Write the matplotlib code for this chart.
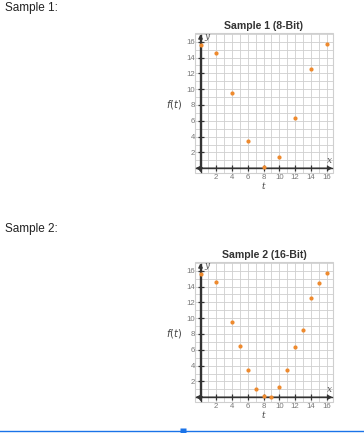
import matplotlib
matplotlib.use("Agg")
import matplotlib.pyplot as plt
from matplotlib.lines import Line2D

plt.rcParams['font.family'] = ['Liberation Sans', 'DejaVu Sans']

# sample 1 (8-bit): samples every 2 units of t
t1 = [0, 2, 4, 6, 8, 10, 12, 14, 16]
f1 = [15.6, 14.6, 9.5, 3.4, 0.2, 1.4, 6.4, 12.5, 15.7]

# sample 2 (16-bit): samples every unit of t
t2 = [0, 2, 4, 5, 6, 7, 8, 9, 10, 11, 12, 13, 14, 15, 16]
f2 = [15.6, 14.6, 9.5, 6.5, 3.4, 1.1, 0.2, 0.05, 1.3, 3.4, 6.4, 8.5, 12.5, 14.5, 15.7]

tick_vals = [2, 4, 6, 8, 10, 12, 14, 16]

W, H = 364, 433
fig = plt.figure(figsize=(W / 100, H / 100), dpi=100)


def make_panel(left, top, title, t, f):
    # pixel box -> figure fraction
    w, h = 138, 140
    ax = fig.add_axes([left / W, 1 - (top + h) / H, w / W, h / H])
    ax.set_xlim(-0.7, 16.8)
    ax.set_ylim(-0.6, 17.1)

    ax.set_xticks(range(0, 17), minor=True)
    ax.set_yticks(range(0, 18), minor=True)
    ax.grid(which='both', color='#cfcfcf', lw=0.6)
    ax.set_axisbelow(True)

    for s in ['top', 'right']:
        ax.spines[s].set_visible(False)
    ax.patch.set_edgecolor('#cfcfcf')
    ax.patch.set_linewidth(0.8)
    ax.spines['left'].set_position(('data', 0))
    ax.spines['bottom'].set_position(('data', 0))
    ax.spines['left'].set_bounds(-0.5, 16.9)
    ax.spines['bottom'].set_bounds(-0.6, 16.7)
    for s in ['left', 'bottom']:
        ax.spines[s].set_color('#333333')
        ax.spines[s].set_linewidth(1.0)

    ax.set_xticks(tick_vals)
    ax.set_yticks(tick_vals)
    ax.tick_params(which='major', direction='inout', length=5, width=0.9,
                   color='#333333', labelsize=5.6, labelcolor='#777777', pad=1.5)
    ax.tick_params(which='minor', length=0)

    # arrow heads on both axes
    ak = dict(arrowstyle='<|-|>', color='#333333', lw=1.0,
              mutation_scale=6, shrinkA=0, shrinkB=0)
    ax.annotate('', xy=(0, 16.95), xytext=(0, -0.55), arrowprops=ak)
    ax.annotate('', xy=(16.75, 0), xytext=(-0.65, 0), arrowprops=ak)

    ax.plot(t, f, 'o', color='#ee8a2e', ms=3, mec='none', zorder=5, clip_on=False)

    ax.text(0.5, 16.6, 'y', fontsize=6.5, style='italic', family='DejaVu Serif',
            color='#555555', va='center')
    ax.text(16.3, 0.35, 'x', fontsize=6.5, style='italic', family='DejaVu Serif',
            color='#555555', ha='center', va='bottom')
    ax.text(8, -1.7, 't', fontsize=6.5, style='italic', family='DejaVu Serif',
            color='#444444', ha='center', va='top')
    ax.text(-2.4, 8, r'$f(t)$', fontsize=7, color='#444444', ha='right', va='center')
    ax.set_title(title, fontsize=7.6, fontweight='bold', color='#333333', pad=3)
    return ax


fig.text(5 / W, 1 - 8 / H, 'Sample 1:', fontsize=8.5, color='#222222', va='center')
fig.text(5 / W, 1 - 229 / H, 'Sample 2:', fontsize=8.5, color='#222222', va='center')

make_panel(195, 33, 'Sample 1 (8-Bit)', t1, f1)
make_panel(195, 262, 'Sample 2 (16-Bit)', t2, f2)

# blue divider at the bottom
yb = 1 - 431 / H
fig.add_artist(Line2D([0, 1], [yb, yb], transform=fig.transFigure,
                      color='#1a73e8', lw=1.0))
fig.add_artist(Line2D([182.7 / W], [yb], transform=fig.transFigure,
                      marker='s', ms=4, color='#1a73e8', mec='none'))

fig.savefig('out.png', dpi=100)
